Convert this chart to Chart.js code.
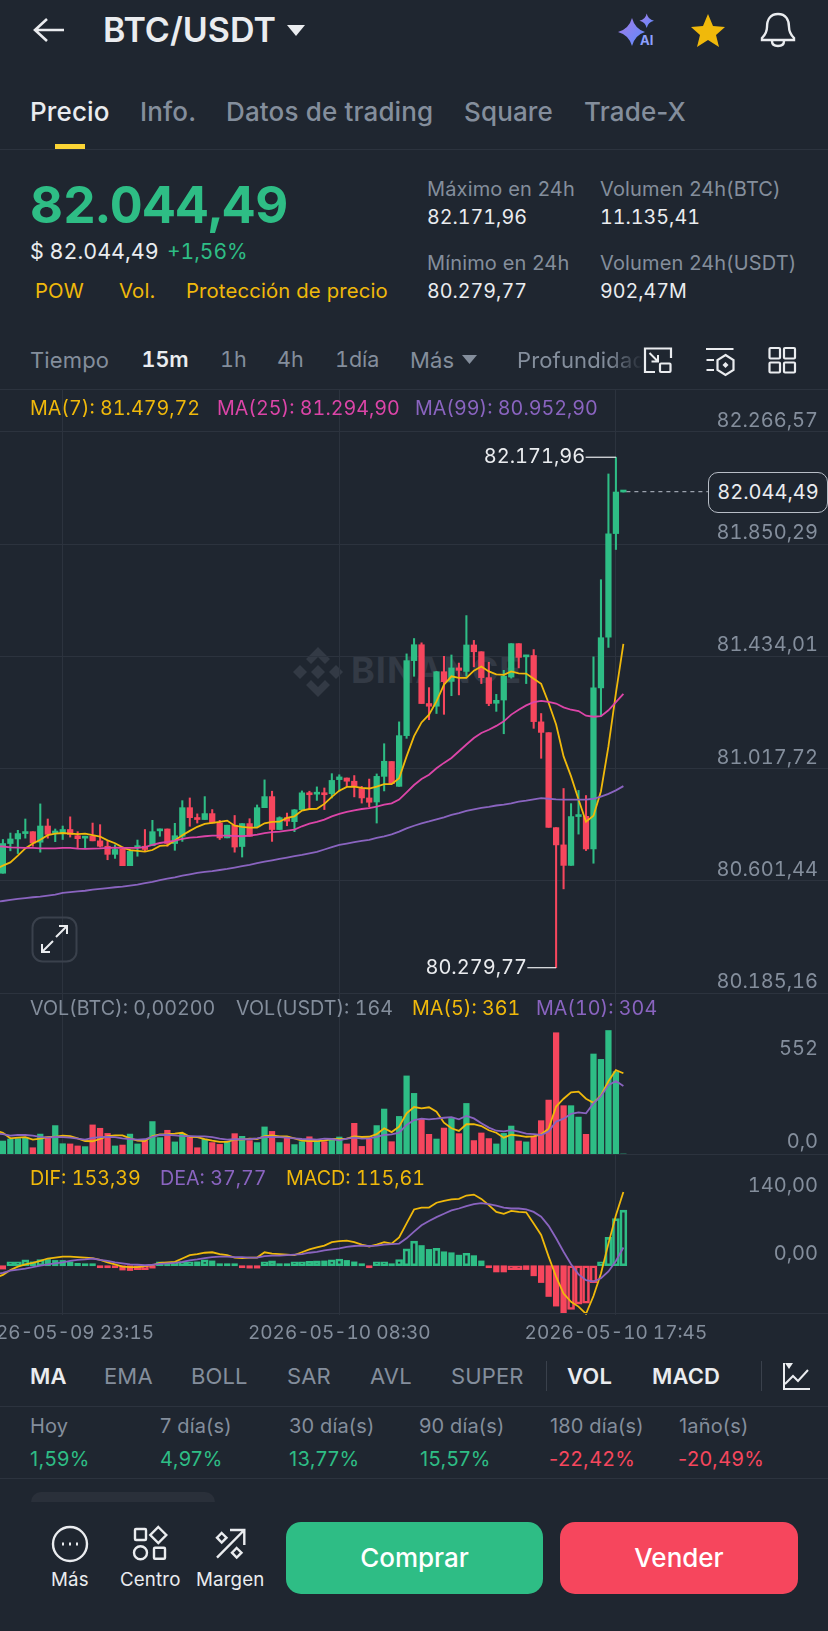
<!DOCTYPE html>
<html lang="es">
<head>
<meta charset="utf-8">
<title>BTC/USDT</title>
<script src="https://cdn.jsdelivr.net/npm/chart.js@4"></script>
<style>
  html, body { margin: 0; padding: 0; background: #1f2630; }
  #page { position: relative; width: 828px; height: 1631px; overflow: hidden; background: #1f2630; font-family: Inter, "Noto Sans", sans-serif; color: #eaecef; }
  .t { position: absolute; white-space: nowrap; transform: translateY(-50%); font-size: 20px; line-height: 1.2; letter-spacing: 0.15px; }
  .n { letter-spacing: 0; font-size: 19.7px; font-variant-numeric: tabular-nums; }
  .p { letter-spacing: 0.4px; }
  .g { color: #848e9c; }
  .w { color: #eaecef; }
  .y { color: #f0b90b; }
  .up { color: #2ebd85; }
  .dn { color: #f6465d; }
  .pk { color: #dc45a8; }
  .pu { color: #8a64c0; }
  .line { position: absolute; left: 0; width: 828px; height: 1px; background: #2c333e; }
  canvas { position: absolute; left: 0; font-variant-numeric: tabular-nums; }
  svg { position: absolute; overflow: visible; }
  .btn { position: absolute; top: 1522px; height: 72px; border-radius: 15px; color: #fff; font-size: 26px; font-weight: 500; line-height: 72px; text-align: center; }
</style>
</head>
<body>
<div id="page">
  <!-- header -->
  <svg style="left:0;top:0" width="828" height="60" fill="none">
    <defs>
      <linearGradient id="spark" x1="0" y1="0" x2="1" y2="1"><stop offset="0" stop-color="#a57be6"/><stop offset="1" stop-color="#5b8cff"/></linearGradient>
    </defs>
    <path d="M36 30H64M47 19L35 30L47 41" stroke="#eaecef" stroke-width="2.6"/>
    <path d="M287 25H305L296 36Z" fill="#eaecef"/>
    <path d="M632 18Q635 29 645 32Q635 35 632 46Q629 35 618 32Q629 29 632 18Z" fill="url(#spark)"/>
    <path d="M646.700 13.500Q648 19.500 654 20.700Q648 22 646.700 28Q645.500 22 639.500 20.700Q645.500 19.500 646.700 13.500Z" fill="url(#spark)"/>
    <path d="M708 14L713 26L725 27L716 35L719 47L708 40L697 47L700 35L691 27L703 26Z" fill="#f0b90b"/>
    <path d="M778 14C770 14 767 20 767 27C767 33 764 36 762 38V40H794V38C792 36 789 33 789 27C789 20 786 14 778 14Z" stroke="#eaecef" stroke-width="2.4"/>
    <path d="M772 41C772 45 775 46 778 46C781 46 784 45 784 41" stroke="#eaecef" stroke-width="2.4"/>
  </svg>
  <div class="t" style="left:640px;top:41px;font-size:13px;font-weight:700;color:#8ea0ff">AI</div>
  <div class="t w" style="left:103px;top:30px;font-size:34px;font-weight:600;letter-spacing:0">BTC/USDT</div>

  <div class="t w" style="left:30px;top:112px;font-size:26px;font-weight:500">Precio</div>
  <div class="t g" style="left:140px;top:112px;font-size:26px;font-weight:500">Info.</div>
  <div class="t g" style="left:226px;top:112px;font-size:26px;font-weight:500">Datos de trading</div>
  <div class="t g" style="left:464px;top:112px;font-size:26px;font-weight:500">Square</div>
  <div class="t g" style="left:584px;top:112px;font-size:26px;font-weight:500">Trade-X</div>
  <div style="position:absolute;left:55px;top:144px;width:30px;height:5px;background:#fcd535"></div>
  <div class="line" style="top:149px"></div>

  <div class="t up n" style="left:30px;top:205px;font-size:51px;font-weight:700">82.044,49</div>
  <div class="t w n" style="left:30px;top:252px;font-size:21.5px">$ 82.044,49</div>
  <div class="t up n" style="left:167px;top:252px;font-size:21px">+1,56%</div>
  <div class="t y" style="left:35px;top:291px;font-size:20.3px">POW</div>
  <div class="t y" style="left:119px;top:291px;font-size:20.3px">Vol.</div>
  <div class="t y" style="left:186px;top:291px;font-size:20.3px">Protección de precio</div>
  <div class="t g" style="left:427px;top:189px">Máximo en 24h</div>
  <div class="t g" style="left:600px;top:189px">Volumen 24h(BTC)</div>
  <div class="t w n" style="left:427px;top:218px">82.171,96</div>
  <div class="t w n" style="left:600px;top:218px">11.135,41</div>
  <div class="t g" style="left:427px;top:263px">Mínimo en 24h</div>
  <div class="t g" style="left:600px;top:263px">Volumen 24h(USDT)</div>
  <div class="t w n" style="left:427px;top:292px">80.279,77</div>
  <div class="t w n" style="left:600px;top:292px">902,47M</div>

  <div class="t g" style="left:30px;top:360px;font-size:22px">Tiempo</div>
  <div class="t w n" style="left:141.500px;top:360px;font-size:21.5px;font-weight:600">15m</div>
  <div class="t g n" style="left:220px;top:360px;font-size:21.5px">1h</div>
  <div class="t g n" style="left:277px;top:360px;font-size:21.5px">4h</div>
  <div class="t g n" style="left:335px;top:360px;font-size:21.5px">1día</div>
  <div class="t g" style="left:410px;top:360px;font-size:22px">Más</div>
  <div class="t g" style="left:517px;top:360px;font-size:22px;width:126px;overflow:hidden;-webkit-mask-image:linear-gradient(to right,#000 72%,transparent)">Profundidad</div>
  <svg style="left:0;top:340px" width="828" height="40" fill="none" stroke="#eaecef" stroke-width="2.2">
    <path d="M462 15H477L469.500 24Z" fill="#848e9c" stroke="none"/>
    <path d="M671 18V8.500H645V32H655"/><rect x="660" y="23.500" width="10.500" height="8.500" rx="1"/>
    <path d="M649.500 13L658 21.500M658 15V21.500H651.500" stroke-width="2"/>
    <path d="M706 9H733.500M706.500 20H714M706.500 30H714"/><path d="M725.500 15L733.500 20V30L725.500 35L717.500 30V20Z"/><path d="M725.500 22L728.500 25L725.500 28L722.500 25Z" fill="#eaecef" stroke="none"/>
    <rect x="769.500" y="8" width="10.500" height="10.500" rx="1"/><rect x="784" y="8" width="11" height="10.500" rx="1"/><rect x="769.500" y="22.500" width="10.500" height="10" rx="1"/><rect x="784" y="22.500" width="11" height="10" rx="1"/>
  </svg>

  <!-- watermark sits under the candles -->
  <svg style="left:293px;top:647px" width="50" height="50" viewBox="0 0 50 50" fill="#333a45">
    <path d="M25 0L37 12L32 17L25 10L18 17L13 12Z"/>
    <path d="M25 50L37 38L32 33L25 40L18 33L13 38Z"/>
    <path d="M7 18L14 25L7 32L0 25Z"/><path d="M43 18L50 25L43 32L36 25Z"/><path d="M25 18L32 25L25 32L18 25Z"/>
  </svg>
  <div class="t" style="left:351px;top:671px;font-size:36px;font-weight:700;color:#333a45;letter-spacing:1px">BINANCE</div>

  <canvas id="priceChart" width="828" height="606" style="top:389px"></canvas>
  <canvas id="volChart" width="828" height="160" style="top:995px"></canvas>
  <canvas id="macdChart" width="828" height="190" style="top:1155px"></canvas>

  <div class="line" style="top:389px"></div>
  <div class="line" style="top:1154px"></div>
  <div class="line" style="top:1313px"></div>

  <!-- legends -->
  <div class="t y n" style="left:30px;top:409px">MA(7): 81.479,72</div>
  <div class="t pk n" style="left:217px;top:409px">MA(25): 81.294,90</div>
  <div class="t pu n" style="left:415px;top:409px">MA(99): 80.952,90</div>
  <div class="t g n" style="left:30px;top:1009px">VOL(BTC): 0,00200</div>
  <div class="t g n" style="left:236px;top:1009px">VOL(USDT): 164</div>
  <div class="t y n" style="left:412px;top:1009px">MA(5): 361</div>
  <div class="t pu n" style="left:536px;top:1009px">MA(10): 304</div>
  <div class="t y n" style="left:30px;top:1179px">DIF: 153,39</div>
  <div class="t pu n" style="left:160px;top:1179px">DEA: 37,77</div>
  <div class="t y n" style="left:286px;top:1179px">MACD: 115,61</div>

  <!-- current price tag -->
  <div class="n" style="position:absolute;left:708px;top:472px;width:118px;height:39px;border:1px solid #b7bdc6;border-radius:10px;background:#1f2630;text-align:center;line-height:39px;font-size:20px;color:#eaecef">82.044,49</div>

  <!-- expand button -->
  <svg style="left:32px;top:917px" width="45" height="45" fill="none" stroke="#eaecef" stroke-width="2">
    <rect x="0.5" y="0.5" width="44" height="44" rx="10" stroke="#3a414c"/>
    <path d="M24 20L35 9M27 9H35V17M21 24L10 35M18 35H10V27"/>
  </svg>

  <!-- indicator tabs -->
  <div class="t w" style="left:30px;top:1376px;font-size:22px;font-weight:600">MA</div>
  <div class="t g" style="left:104px;top:1376px;font-size:22px">EMA</div>
  <div class="t g" style="left:191px;top:1376px;font-size:22px">BOLL</div>
  <div class="t g" style="left:287px;top:1376px;font-size:22px">SAR</div>
  <div class="t g" style="left:370px;top:1376px;font-size:22px">AVL</div>
  <div class="t g" style="left:451px;top:1376px;font-size:22px">SUPER</div>
  <div style="position:absolute;left:546px;top:1361px;width:1px;height:30px;background:#3a414c"></div>
  <div class="t w" style="left:567px;top:1376px;font-size:22px;font-weight:600">VOL</div>
  <div class="t w" style="left:652px;top:1376px;font-size:22px;font-weight:600">MACD</div>
  <div style="position:absolute;left:761px;top:1361px;width:1px;height:30px;background:#3a414c"></div>
  <svg style="left:782px;top:1362px" width="30" height="30" fill="none" stroke="#eaecef" stroke-width="2">
    <path d="M2 1V27H28M3 22L11 14L16 19L26 8"/><path d="M3 1H11L7 7Z" fill="#eaecef" stroke="none"/>
  </svg>
  <div class="line" style="top:1406px"></div>

  <!-- period changes -->
  <div class="t g" style="left:30px;top:1426px">Hoy</div>
  <div class="t g" style="left:160px;top:1426px">7 día(s)</div>
  <div class="t g" style="left:289px;top:1426px">30 día(s)</div>
  <div class="t g" style="left:419px;top:1426px">90 día(s)</div>
  <div class="t g" style="left:550px;top:1426px">180 día(s)</div>
  <div class="t g" style="left:679px;top:1426px">1año(s)</div>
  <div class="t up p" style="left:30px;top:1459px">1,59%</div>
  <div class="t up p" style="left:160px;top:1459px">4,97%</div>
  <div class="t up p" style="left:289px;top:1459px">13,77%</div>
  <div class="t up p" style="left:420px;top:1459px">15,57%</div>
  <div class="t dn p" style="left:549px;top:1459px">-22,42%</div>
  <div class="t dn p" style="left:678px;top:1459px">-20,49%</div>
  <div class="line" style="top:1478px"></div>
  <div style="position:absolute;left:31px;top:1492px;width:184px;height:10px;border-radius:12px 12px 0 0;background:#2a303a"></div>

  <!-- bottom bar -->
  <svg style="left:0;top:1520px" width="280" height="50" fill="none" stroke="#eaecef" stroke-width="2.4">
    <circle cx="70" cy="24" r="17"/>
    <path d="M62 24H64M69 24H71M76 24H78" stroke-width="3"/>
    <rect x="135" y="9" width="11" height="11" rx="1"/><path d="M158.300 7L166.300 15L158.300 23L150.300 15Z"/>
    <circle cx="140.500" cy="32.700" r="6.500"/><rect x="154" y="27.700" width="11" height="11" rx="1"/>
    <path d="M217 37.700L244.300 10M230 10H244.300V25"/><path d="M221.700 13L226.500 17.700L221.700 22.500L217 17.700Z"/><path d="M236.700 28L241.500 32.700L236.700 37.500L232 32.700Z"/>
  </svg>
  <div class="t w" style="left:51px;top:1580px;font-size:18.7px">Más</div>
  <div class="t w" style="left:120px;top:1580px;font-size:18.7px">Centro</div>
  <div class="t w" style="left:196px;top:1580px;font-size:18.7px">Margen</div>
  <div class="btn" style="left:286px;width:257px;background:#2ebd85">Comprar</div>
  <div class="btn" style="left:560px;width:238px;background:#f6465d">Vender</div>
</div>

<script>
// 15m candles, oldest first. The first one sits just off the left edge.
const opens = [
  80600,
  80630,80740,80757,80777,80784,80745,80805,80779,80779,80792,
  80769,80760,80767,80750,80730,80700,80720,80658,80724,80730,
  80732,80787,80794,80740,80767,80873,80836,80829,80851,80816,
  80761,80808,80729,80814,80802,80873,80914,80792,80836,80821,
  80865,80928,80923,80928,80925,80977,80983,80971,80944,80909,
  80894,80989,81044,80952,81140,81418,81477,81259,81249,81377,
  81341,81391,81378,81476,81451,81355,81260,81272,81357,81481,
  81432,81437,81191,81151,80799,80735,80659,80840,80841,80720,
  81317,81505,81889,82043
];
const highs = [
  80650,
  80755,80779,80789,80831,80784,80887,80831,80794,80805,80839,
  80784,80767,80816,80810,80748,80735,80727,80718,80753,80792,
  80826,80794,80794,80815,80899,80909,80850,80914,80866,80826,
  80808,80844,80814,80832,80883,80976,80934,80839,80853,80866,
  80935,80934,80950,80946,80999,80995,80983,80992,80952,80979,
  80998,81110,81044,81191,81443,81500,81484,81318,81378,81434,
  81439,81409,81585,81493,81451,81412,81293,81382,81481,81481,
  81438,81459,81222,81151,80799,80944,80888,80937,80918,81432,
  81718,82110,82171.96,82044.49
];
const lows = [
  80590,
  80630,80713,80703,80760,80730,80708,80760,80747,80755,80764,
  80722,80722,80750,80727,80680,80685,80658,80658,80693,80711,
  80732,80767,80730,80715,80748,80804,80816,80829,80816,80755,
  80761,80708,80690,80767,80802,80873,80748,80792,80806,80784,
  80865,80869,80900,80866,80909,80934,80952,80913,80890,80876,
  80816,80935,80962,80952,81130,81360,81259,81199,81222,81219,
  81288,81291,81360,81395,81333,81251,81230,81147,81353,81391,
  81333,81167,81056,80800,80279.77,80572,80659,80775,80714,80667,
  81212,81467,81830,82043
];
const closes = [
  80630,
  80740,80757,80777,80784,80742,80805,80774,80782,80792,80774,
  80758,80766,80750,80730,80700,80718,80658,80711,80732,80718,
  80784,80794,80740,80769,80873,80836,80829,80851,80816,80761,
  80808,80727,80814,80767,80873,80914,80792,80836,80823,80865,
  80928,80921,80928,80921,80974,80987,80971,80952,80909,80893,
  80989,81045,80962,81140,81418,81477,81259,81249,81377,81340,
  81391,81382,81476,81451,81355,81259,81271,81360,81481,81430,
  81438,81192,81152,80800,80735,80659,80840,80846,80720,81317,
  81503,81888,82043,82044.49
];
const ma7 = [
  80646,
  80658,80670,80695,80722,80740,80754,80771,80777,80779,80777,
  80775,80777,80771,80766,80752,80741,80726,80716,80713,80710,
  80716,80731,80733,80751,80771,80787,80802,80813,80817,80820,
  80825,80806,80802,80799,80799,80815,80820,80821,80835,80841,
  80862,80868,80869,80887,80913,80936,80950,80951,80946,80944,
  80951,80960,80960,80982,81063,81138,81189,81218,81267,81329,
  81360,81354,81354,81381,81396,81378,81367,81365,81378,81371,
  81370,81351,81332,81261,81181,81063,80989,80903,80821,80843,
  80934,81100,81298,81479.72
];
const ma25 = [
  80730,
  80729,80726,80725,80724,80724,80722,80722,80722,80724,80724,
  80721,80720,80721,80722,80724,80725,80724,80724,80724,80727,
  80735,80742,80746,80751,80757,80762,80764,80767,80769,80769,
  80769,80768,80767,80769,80773,80779,80782,80784,80788,80792,
  80804,80814,80820,80829,80841,80850,80857,80863,80868,80871,
  80877,80884,80889,80903,80930,80957,80979,80995,81019,81039,
  81057,81082,81107,81131,81150,81162,81176,81193,81218,81236,
  81252,81264,81269,81265,81259,81245,81236,81231,81214,81210,
  81212,81234,81264,81294.90
];
const ma99 = [
  80523,
  80527,80531,80535,80538,80541,80543,80547,80551,80557,80560,
  80563,80565,80569,80572,80575,80578,80580,80584,80588,80593,
  80598,80604,80610,80615,80621,80626,80631,80635,80638,80642,
  80646,80651,80656,80661,80667,80673,80678,80683,80688,80693,
  80698,80704,80709,80718,80727,80735,80740,80745,80750,80754,
  80761,80767,80774,80784,80796,80806,80815,80822,80830,80837,
  80846,80853,80861,80867,80872,80876,80881,80884,80889,80895,
  80899,80904,80908,80906,80904,80903,80903,80903,80903,80906,
  80914,80924,80937,80952.90
];
const volumes = [
  60,
  58,67,69,72,28,89,77,127,46,45,
  36,33,130,115,92,36,40,89,45,60,
  145,73,106,54,89,75,28,66,51,43,
  55,91,79,60,51,121,101,51,76,42,
  55,77,60,55,63,76,45,137,34,66,
  127,201,55,168,349,271,155,88,67,116,
  159,91,226,60,94,69,45,92,125,58,
  54,80,149,241,542,216,216,165,88,447,
  423,552,368,0.002
];
const volMa5 = [
  105,
  95,70,73,75,64,69,75,77,82,80,
  70,58,57,67,80,83,83,70,60,58,
  80,88,89,91,95,77,75,67,60,54,
  54,64,64,69,67,80,83,79,79,70,
  60,58,58,60,67,66,69,79,76,77,
  89,115,98,122,182,210,204,209,189,140,
  115,103,133,133,125,106,95,73,86,82,
  77,79,88,113,212,247,276,279,247,229,
  262,325,375,361
];
const volMa10 = [
  92,
  89,82,85,85,82,77,73,76,75,73,
  69,64,72,75,76,75,70,67,64,66,
  77,85,86,83,80,80,79,79,75,69,
  64,66,66,66,70,76,76,75,73,70,
  67,66,64,69,67,61,69,73,69,70,
  77,85,88,95,130,152,158,155,158,162,
  165,155,170,159,137,118,104,101,107,100,
  91,89,85,100,145,158,179,186,182,226,
  259,308,326,304
];
const dif = [
  -25,
  -19,-9,-2,3,6,10,15,17,19,19,
  18,17,16,12,7,3,-2,-3,-3,-1,
  1,6,7,8,15,22,24,27,28,24,
  22,17,16,17,17,28,25,24,23,22,
  28,34,38,42,49,51,52,49,44,40,
  44,49,46,59,88,117,121,121,131,135,
  138,139,146,148,139,126,112,108,114,112,
  111,88,64,19,-23,-58,-75,-85,-100,-63,
  -16,46,105,153.39
];
const dea = [
  -17,
  -15,-10,-8,-6,-3,0,3,5,7,10,
  12,13,15,12,10,7,5,3,2,1,
  2,4,5,6,8,11,13,16,18,19,
  19,18,18,17,17,20,21,21,22,23,
  24,27,29,32,34,36,39,41,42,41,
  42,44,45,46,57,71,84,93,101,108,
  115,119,124,128,130,128,125,121,119,119,
  117,112,102,83,57,29,3,-18,-30,-33,
  -26,-12,10,37.77
];
const macdHist = [
  -5,
  -7,6,8,12,8,13,13,11,11,8,
  5,3,3,-1,-1,-3,-9,-10,-6,-5,
  -5,1,1,3,7,8,8,12,10,3,
  3,3,-2,-5,-5,6,10,3,3,6,
  8,9,10,10,12,14,11,8,4,-2,
  6,8,4,13,35,51,42,34,36,29,
  27,22,26,21,10,-2,-13,-13,-8,-7,
  -8,-21,-35,-64,-84,-98,-91,-80,-78,-35,
  8,59,98,115.61
];

const timeTicks = [8, 45, 82];
const timeLabels = ['2026-05-09 23:15', '2026-05-10 08:30', '2026-05-10 17:45'];
const priceTicks = [82266.57, 81850.29, 81434.01, 81017.72, 80601.44, 80185.16];
const priceLabels = ['82.266,57', '81.850,29', '81.434,01', '81.017,72', '80.601,44', '80.185,16'];
const macdTicks = [140, 0];
const macdLabels = ['140,00', '0,00'];

const lastPrice = 82044.49;
const dayHigh = 82171.96;
const dayLow = 80279.77;

const GREEN = '#2ebd85', RED = '#f6465d', YELLOW = '#f0b90b', PINK = '#dc45a8', PURPLE = '#8a64c0';
const GRID = '#2c333e', GREY = '#848e9c';
const FONT = 'Inter';

const index = closes.map((c, i) => i - 1);
const candleColors = closes.map((c, i) => c >= opens[i] ? GREEN : RED);

// x range that makes one candle 7.476px wide on the 828px canvas
const xMin = -0.388, xMax = 110.37;

function fitAxis(height) {
  return s => {
    if (s.isHorizontal()) s.height = height;
    else s.width = 0;
    s.paddingLeft = s.paddingRight = s.paddingTop = s.paddingBottom = 0;
  };
}

function xAxis(showLabels) {
  return {
    type: 'linear', min: xMin, max: xMax, offset: false,
    afterBuildTicks: s => { s.ticks = timeTicks.map(v => ({ value: v })); },
    afterFit: fitAxis(showLabels ? 30 : 0),
    grid: { color: GRID, drawTicks: false, offset: false },
    border: { display: false },
    ticks: {
      display: showLabels, autoSkip: false, maxRotation: 0, padding: 7, color: GREY,
      font: { family: FONT, size: 19 },
      callback: (v) => timeLabels[timeTicks.indexOf(v)]
    }
  };
}

function yAxis(min, max, ticks, labels, offset, showGrid) {
  return {
    type: 'linear', position: 'right', min: min, max: max,
    afterBuildTicks: s => { s.ticks = ticks.map(v => ({ value: v })); },
    afterFit: fitAxis(0),
    grid: { display: showGrid, color: GRID, drawTicks: false },
    border: { display: false },
    ticks: {
      mirror: true, padding: -10, labelOffset: offset, color: GREY,
      font: { family: FONT, size: 20 },
      callback: (v) => labels[ticks.indexOf(v)]
    }
  };
}

function lineSet(values, color, width) {
  return { type: 'line', data: values, borderColor: color, borderWidth: width || 1.8, pointRadius: 0, tension: 0, order: 0 };
}

const baseOptions = {
  responsive: false, animation: false, events: [],
  layout: { padding: 0 },
  plugins: { legend: { display: false }, tooltip: { enabled: false } }
};

// high and low price tags next to their leader lines
const extremeLabels = {
  id: 'extremeLabels',
  afterDatasetsDraw(chart) {
    const { x, y } = chart.scales;
    const ctx = chart.ctx;
    ctx.save();
    ctx.font = '20px ' + FONT;
    ctx.fillStyle = '#eaecef';
    ctx.textAlign = 'right';
    ctx.textBaseline = 'middle';
    ctx.fillText('82.171,96', x.getPixelForValue(77.9), y.getPixelForValue(dayHigh));
    ctx.fillText('80.279,77', x.getPixelForValue(70.1), y.getPixelForValue(dayLow));
    ctx.restore();
  }
};

new Chart(document.getElementById('priceChart'), {
  type: 'bar',
  data: {
    labels: index,
    datasets: [
      lineSet(ma99, PURPLE), lineSet(ma25, PINK), lineSet(ma7, YELLOW),
      { type: 'line', data: [{ x: 83.4, y: lastPrice }, { x: 94.3, y: lastPrice }], borderColor: '#9aa1ac', borderWidth: 1.2, borderDash: [4, 4], pointRadius: 0, order: 0 },
      { type: 'line', data: [{ x: 77.95, y: dayHigh }, { x: 82, y: dayHigh }], borderColor: '#eaecef', borderWidth: 1.2, pointRadius: 0, order: 0 },
      { type: 'line', data: [{ x: 70.15, y: dayLow }, { x: 74, y: dayLow }], borderColor: '#eaecef', borderWidth: 1.2, pointRadius: 0, order: 0 },
      { data: lows.map((l, i) => [l, highs[i]]), backgroundColor: candleColors, barThickness: 1.4, grouped: false, order: 2 },
      { data: opens.map((o, i) => [Math.min(o, closes[i]), Math.max(o, closes[i])]), backgroundColor: candleColors, barThickness: 5.6, minBarLength: 2, grouped: false, order: 1 }
    ]
  },
  options: {
    ...baseOptions,
    scales: { x: xAxis(false), y: yAxis(80178.6, 82424.9, priceTicks, priceLabels, -11, true) }
  },
  plugins: [extremeLabels]
});

new Chart(document.getElementById('volChart'), {
  type: 'bar',
  data: {
    labels: index,
    datasets: [
      lineSet(volMa10, PURPLE), lineSet(volMa5, YELLOW),
      { data: volumes, backgroundColor: candleColors, barThickness: 5.6, grouped: false, order: 1 }
    ]
  },
  options: {
    ...baseOptions,
    scales: {
      x: xAxis(false),
      y: yAxis(-4.47, 710.7, [0], ['0,0'], -12, false),
      y2: yAxis(-4.47, 710.7, [552], ['552'], 18, false)
    }
  }
});

// rising histogram bars are hollow and a little wider, falling ones solid
const histColor = macdHist.map(v => v >= 0 ? GREEN : RED);
const isRising = macdHist.map((v, i) => i > 0 && v > macdHist[i - 1]);

new Chart(document.getElementById('macdChart'), {
  type: 'bar',
  data: {
    labels: index,
    datasets: [
      lineSet(dea, PURPLE), lineSet(dif, YELLOW),
      { data: macdHist.map((v, i) => isRising[i] ? null : v), backgroundColor: histColor, barThickness: 5.6, minBarLength: 2, grouped: false, order: 1 },
      { data: macdHist.map((v, i) => isRising[i] ? v : null), backgroundColor: 'transparent', borderColor: histColor, borderWidth: 2, borderSkipped: false, barThickness: 7, minBarLength: 4, grouped: false, order: 1 }
    ]
  },
  options: {
    ...baseOptions,
    scales: { x: xAxis(true), y: yAxis(-102.5, 230.3, macdTicks, macdLabels, -12, false) }
  }
});
</script>
</body>
</html>
